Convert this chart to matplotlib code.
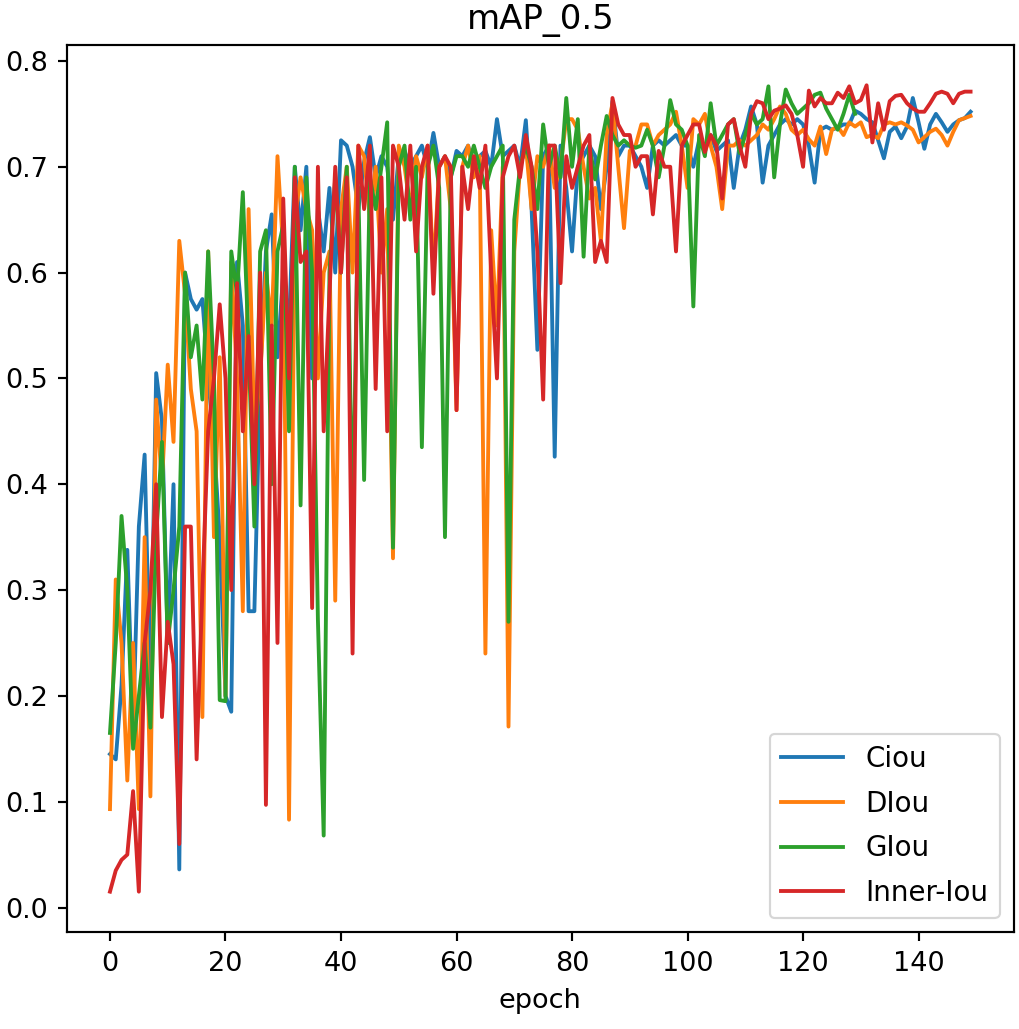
import matplotlib
matplotlib.use("Agg")
import matplotlib.pyplot as plt

S = 1.95  # scale factor of the reference rendering

ciou = [0.145, 0.14, 0.21, 0.338, 0.17, 0.36, 0.428, 0.20, 0.505, 0.46,
        0.25, 0.40, 0.036, 0.60, 0.575, 0.565, 0.575, 0.50, 0.44, 0.35,
        0.20, 0.185, 0.61, 0.55, 0.28, 0.28, 0.50, 0.62, 0.655, 0.52,
        0.60, 0.55, 0.70, 0.64, 0.70, 0.50, 0.66, 0.62, 0.68, 0.60,
        0.725, 0.72, 0.70, 0.66, 0.705, 0.728, 0.69, 0.71, 0.70, 0.65,
        0.71, 0.715, 0.70, 0.71, 0.72, 0.70, 0.732, 0.70, 0.71, 0.69,
        0.715, 0.71, 0.72, 0.70, 0.71, 0.715, 0.70, 0.745, 0.71, 0.715,
        0.72, 0.70, 0.744, 0.66, 0.527, 0.71, 0.72, 0.426, 0.72, 0.68,
        0.62, 0.70, 0.71, 0.72, 0.71, 0.66, 0.70, 0.762, 0.71, 0.72,
        0.72, 0.71, 0.70, 0.68, 0.72, 0.725, 0.72, 0.725, 0.73, 0.72,
        0.72, 0.70, 0.725, 0.72, 0.73, 0.715, 0.72, 0.725, 0.68, 0.72,
        0.735, 0.757, 0.74, 0.685, 0.72, 0.73, 0.74, 0.745, 0.74, 0.745,
        0.74, 0.72, 0.685, 0.735, 0.738, 0.735, 0.737, 0.74, 0.74, 0.753,
        0.75, 0.745, 0.742, 0.725, 0.708, 0.733, 0.738, 0.727, 0.738, 0.765,
        0.742, 0.717, 0.74, 0.75, 0.742, 0.733, 0.74, 0.744, 0.746, 0.752]

diou = [0.093, 0.31, 0.25, 0.12, 0.25, 0.093, 0.35, 0.105, 0.48, 0.40,
        0.513, 0.44, 0.63, 0.58, 0.49, 0.45, 0.18, 0.62, 0.35, 0.52,
        0.20, 0.61, 0.50, 0.28, 0.66, 0.45, 0.50, 0.60, 0.55, 0.71,
        0.62, 0.083, 0.65, 0.69, 0.66, 0.64, 0.50, 0.60, 0.62, 0.29,
        0.66, 0.70, 0.60, 0.72, 0.71, 0.65, 0.70, 0.60, 0.66, 0.33,
        0.72, 0.70, 0.66, 0.71, 0.69, 0.72, 0.60, 0.70, 0.71, 0.66,
        0.47, 0.70, 0.72, 0.69, 0.71, 0.24, 0.64, 0.55, 0.70, 0.171,
        0.62, 0.70, 0.72, 0.66, 0.71, 0.70, 0.72, 0.68, 0.70, 0.745,
        0.745, 0.735, 0.70, 0.67, 0.68, 0.63, 0.73, 0.76, 0.70, 0.642,
        0.715, 0.72, 0.74, 0.74, 0.72, 0.73, 0.735, 0.74, 0.752, 0.72,
        0.68, 0.745, 0.74, 0.75, 0.72, 0.70, 0.66, 0.72, 0.72, 0.725,
        0.72, 0.725, 0.73, 0.74, 0.735, 0.745, 0.757, 0.75, 0.735, 0.73,
        0.735, 0.726, 0.72, 0.738, 0.712, 0.735, 0.738, 0.73, 0.742, 0.738,
        0.742, 0.728, 0.73, 0.727, 0.74, 0.742, 0.74, 0.742, 0.739, 0.735,
        0.723, 0.728, 0.733, 0.736, 0.73, 0.72, 0.733, 0.744, 0.746, 0.748]

giou = [0.165, 0.25, 0.37, 0.30, 0.15, 0.20, 0.25, 0.17, 0.35, 0.44,
        0.25, 0.30, 0.36, 0.60, 0.52, 0.55, 0.48, 0.62, 0.50, 0.196,
        0.195, 0.62, 0.58, 0.676, 0.53, 0.36, 0.62, 0.64, 0.40, 0.62,
        0.645, 0.45, 0.70, 0.38, 0.69, 0.60, 0.272, 0.068, 0.60, 0.69,
        0.60, 0.70, 0.35, 0.68, 0.404, 0.69, 0.66, 0.70, 0.742, 0.34,
        0.70, 0.72, 0.65, 0.70, 0.435, 0.70, 0.72, 0.68, 0.35, 0.69,
        0.71, 0.71, 0.70, 0.72, 0.70, 0.68, 0.70, 0.71, 0.72, 0.27,
        0.65, 0.70, 0.72, 0.70, 0.66, 0.74, 0.70, 0.72, 0.69, 0.765,
        0.70, 0.745, 0.615, 0.72, 0.688, 0.72, 0.748, 0.73, 0.72, 0.725,
        0.72, 0.718, 0.72, 0.735, 0.72, 0.69, 0.72, 0.763, 0.74, 0.735,
        0.72, 0.568, 0.73, 0.71, 0.76, 0.72, 0.73, 0.74, 0.745, 0.713,
        0.73, 0.75, 0.74, 0.745, 0.776, 0.69, 0.74, 0.773, 0.76, 0.75,
        0.755, 0.76, 0.768, 0.77, 0.755, 0.745, 0.735, 0.75, 0.768, 0.75]

inner_iou = [0.015, 0.035, 0.045, 0.05, 0.11, 0.015, 0.25, 0.30, 0.40, 0.18,
             0.27, 0.23, 0.06, 0.36, 0.36, 0.14, 0.30, 0.45, 0.50, 0.57,
             0.50, 0.30, 0.59, 0.45, 0.54, 0.40, 0.60, 0.097, 0.55, 0.25,
             0.67, 0.50, 0.69, 0.61, 0.62, 0.283, 0.70, 0.45, 0.58, 0.70,
             0.60, 0.69, 0.24, 0.72, 0.66, 0.72, 0.49, 0.69, 0.45, 0.72,
             0.70, 0.65, 0.72, 0.62, 0.70, 0.72, 0.58, 0.70, 0.71, 0.70,
             0.47, 0.70, 0.66, 0.71, 0.68, 0.72, 0.60, 0.50, 0.69, 0.71,
             0.72, 0.69, 0.73, 0.70, 0.62, 0.48, 0.72, 0.72, 0.59, 0.71,
             0.68, 0.70, 0.72, 0.73, 0.61, 0.63, 0.61, 0.765, 0.74, 0.73,
             0.73, 0.70, 0.71, 0.71, 0.655, 0.715, 0.70, 0.70, 0.62, 0.72,
             0.73, 0.74, 0.74, 0.714, 0.73, 0.72, 0.67, 0.74, 0.745, 0.72,
             0.70, 0.75, 0.762, 0.76, 0.745, 0.753, 0.755, 0.758, 0.75, 0.73,
             0.70, 0.772, 0.757, 0.765, 0.76, 0.76, 0.77, 0.765, 0.776, 0.76,
             0.763, 0.777, 0.723, 0.76, 0.735, 0.762, 0.767, 0.768, 0.76, 0.755,
             0.752, 0.752, 0.76, 0.769, 0.771, 0.769, 0.76, 0.769, 0.771, 0.771]

series = [("Ciou", ciou), ("DIou", diou), ("GIou", giou), ("Inner-Iou", inner_iou)]

fig = plt.figure(figsize=(10.19, 10.29), dpi=100)
ax = fig.add_axes([0.0657, 0.0943, 0.929, 0.8620])

for name, vals in series:
    ax.plot(range(len(vals)), vals, label=name, linewidth=1.5 * 1.85)

ax.set_title("mAP_0.5", fontsize=24.5, pad=6 * S)
ax.set_xlabel("epoch", fontsize=10 * S, labelpad=4 * S)
ax.tick_params(labelsize=10 * S, length=3.5 * S, width=0.8 * S, pad=3.5 * S)
for sp in ax.spines.values():
    sp.set_linewidth(0.8 * S)
leg = ax.legend(loc="lower right", fontsize=20, handlelength=2.25,
                labelspacing=0.6)
leg.get_frame().set_linewidth(0.8 * S)

fig.savefig("out.png", dpi=100)
